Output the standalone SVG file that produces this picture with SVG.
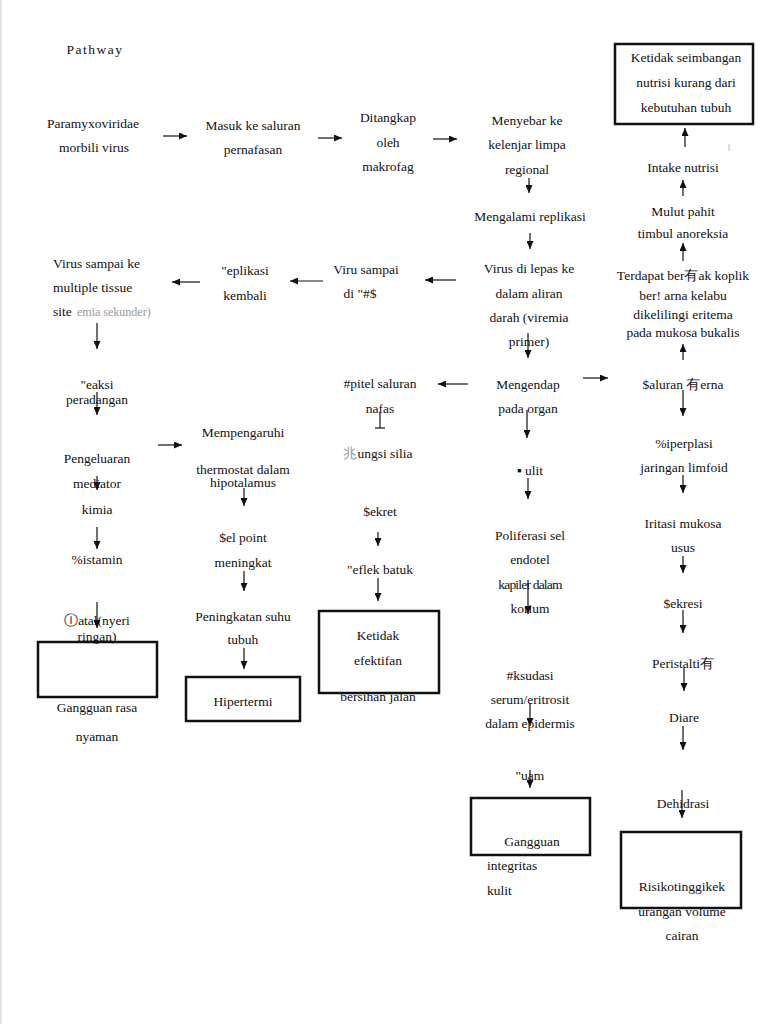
<svg xmlns="http://www.w3.org/2000/svg" width="768" height="1024" viewBox="0 0 768 1024">
<style>
text{font-family:"Liberation Serif","Times New Roman",serif;font-size:13.5px;fill:#111;text-anchor:middle}
.l{text-anchor:start}
.g{fill:#999}
.box{fill:none;stroke:#111;stroke-width:2.5}
.c line{stroke:#111;stroke-width:1.2}
</style>
<defs>
<marker id="a" markerUnits="userSpaceOnUse" markerWidth="8" markerHeight="7" refX="8" refY="3.5" orient="auto">
<path d="M0,0 L8,3.5 L0,7 z" fill="#111"/>
</marker>
</defs>
<rect width="768" height="1024" fill="#fff"/>
<line x1="1" y1="0" x2="1" y2="1024" stroke="#dfe6ee" stroke-width="2"/>
<text x="95" y="54" style="letter-spacing:1.5px">Pathway</text>

<g id="n1"><text x="93" y="128">Paramyxoviridae</text><text x="94" y="152">morbili virus</text></g>
<g id="n2"><text x="253" y="130">Masuk ke saluran</text><text x="253" y="154">pernafasan</text></g>
<g id="n3"><text x="388" y="122">Ditangkap</text><text x="388" y="147">oleh</text><text x="388" y="171">makrofag</text></g>
<g id="n4"><text x="527" y="125">Menyebar ke</text><text x="527" y="149">kelenjar limpa</text><text x="527" y="174">regional</text></g>
<g id="n5"><text x="530" y="221">Mengalami replikasi</text></g>
<g id="n6"><text x="529" y="273">Virus di lepas ke</text><text x="529" y="298">dalam aliran</text><text x="529" y="322">darah (viremia</text><text x="529" y="346">primer)</text></g>
<g id="n7"><text x="366" y="274">Viru sampai</text><text x="360" y="298">di "#$</text></g>
<g id="n8"><text x="245" y="275">"eplikasi</text><text x="245" y="300">kembali</text></g>
<g id="n9"><text class="l" x="53" y="268">Virus sampai ke</text><text class="l" x="53" y="292">multiple tissue</text><text class="l" x="53" y="316">site</text><text class="l g" x="77" y="316" style="font-size:12px">emia sekunder)</text></g>
<g id="n10"><text x="97" y="389">"eaksi</text><text x="97" y="404">peradangan</text></g>
<g id="n11"><text x="97" y="463">Pengeluaran</text><text x="97" y="488">mediator</text><text x="97" y="514">kimia</text></g>
<g id="n12"><text x="97" y="564">%istamin</text></g>
<g id="n13"><text x="97" y="625">Ⓘatal(nyeri</text><text x="97" y="641">ringan)</text></g>
<g id="n14"><rect class="box" x="38" y="642" width="119" height="55"/><text x="97" y="712">Gangguan rasa</text><text x="97" y="741">nyaman</text></g>
<g id="n15"><text x="243" y="437">Mempengaruhi</text><text x="243" y="474">thermostat dalam</text><text x="243" y="487">hipotalamus</text></g>
<g id="n16"><text x="243" y="542">$el point</text><text x="243" y="567">meningkat</text></g>
<g id="n17"><text x="243" y="621">Peningkatan suhu</text><text x="243" y="644">tubuh</text></g>
<g id="n18"><rect class="box" x="186" y="677" width="114" height="44"/><text x="243" y="706">Hipertermi</text></g>
<g id="n19"><text x="380" y="388">#pitel saluran</text><text x="380" y="413">nafas</text></g>
<g id="n20"><text x="378" y="458"><tspan class="g">兆</tspan>ungsi silia</text></g>
<g id="n21"><text x="380" y="516">$ekret</text></g>
<g id="n22"><text x="380" y="574">"eflek batuk</text></g>
<g id="n23"><text x="378" y="640">Ketidak</text><text x="378" y="665">efektifan</text><text x="378" y="701">bersihan jalan</text><rect class="box" x="319" y="611" width="120" height="82" fill="none"/></g>
<g id="n24"><text x="528" y="389">Mengendap</text><text x="528" y="413">pada organ</text></g>
<g id="n25"><text x="530" y="475">▪ ulit</text></g>
<g id="n26"><text x="530" y="540">Poliferasi sel</text><text x="530" y="564">endotel</text><text x="530" y="589" style="letter-spacing:-0.8px">kapiler dalam</text><text x="530" y="613">korium</text></g>
<g id="n27"><text x="530" y="680">#ksudasi</text><text x="530" y="704">serum/eritrosit</text><text x="530" y="728">dalam epidermis</text></g>
<g id="n28"><text x="530" y="780">"uam</text></g>
<g id="n29"><rect class="box" x="471" y="798" width="119" height="57"/><text x="532" y="846">Gangguan</text><text class="l" x="487" y="870">integritas</text><text class="l" x="487" y="895">kulit</text></g>
<g id="n30"><text x="683" y="389">$aluran 有erna</text></g>
<g id="n31"><text x="684" y="448">%iperplasi</text><text x="684" y="472">jaringan limfoid</text></g>
<g id="n32"><text x="683" y="528">Iritasi mukosa</text><text x="683" y="552">usus</text></g>
<g id="n33"><text x="683" y="608">$ekresi</text></g>
<g id="n34"><text x="683" y="668">Peristalti有</text></g>
<g id="n35"><text x="684" y="722">Diare</text></g>
<g id="n36"><text x="683" y="808">Dehidrasi</text></g>
<g id="n37"><rect class="box" x="621" y="832" width="120" height="76"/><text x="682" y="891">Risikotinggikek</text><text x="682" y="916">urangan volume</text><text x="682" y="940">cairan</text></g>
<g id="n38"><text x="683" y="280">Terdapat ber有ak koplik</text><text x="683" y="300">ber! arna kelabu</text><text x="683" y="319">dikelilingi eritema</text><text x="683" y="337">pada mukosa bukalis</text></g>
<g id="n39"><text x="683" y="216">Mulut pahit</text><text x="683" y="238">timbul anoreksia</text></g>
<g id="n40"><text x="683" y="172">Intake nutrisi</text></g>
<g id="n41"><rect class="box" x="615" y="44" width="138" height="80"/><text x="686" y="62">Ketidak seimbangan</text><text x="686" y="87">nutrisi kurang dari</text><text x="686" y="112">kebutuhan tubuh</text></g>

<g class="c" id="connectors">
<line x1="163" y1="136" x2="187" y2="136" marker-end="url(#a)"/>
<line x1="318" y1="138" x2="342" y2="138" marker-end="url(#a)"/>
<line x1="433" y1="139" x2="457" y2="139" marker-end="url(#a)"/>
<line x1="529" y1="178" x2="529" y2="193" marker-end="url(#a)"/>
<line x1="530" y1="233" x2="530" y2="249" marker-end="url(#a)"/>
<line x1="456" y1="280" x2="425" y2="280" marker-end="url(#a)"/>
<line x1="323" y1="281" x2="290" y2="281" marker-end="url(#a)"/>
<line x1="200" y1="282" x2="172" y2="282" marker-end="url(#a)"/>
<line x1="97" y1="323" x2="97" y2="349" marker-end="url(#a)"/>
<line x1="97" y1="392" x2="97" y2="415" marker-end="url(#a)"/>
<line x1="158" y1="445" x2="182" y2="445" marker-end="url(#a)"/>
<line x1="97" y1="476" x2="97" y2="490" marker-end="url(#a)"/>
<line x1="97" y1="527" x2="97" y2="549" marker-end="url(#a)"/>
<line x1="97" y1="602" x2="97" y2="628" marker-end="url(#a)"/>
<line x1="244" y1="488" x2="244" y2="506" marker-end="url(#a)"/>
<line x1="244" y1="571" x2="244" y2="591" marker-end="url(#a)"/>
<line x1="244" y1="648" x2="244" y2="669" marker-end="url(#a)"/>
<line x1="528" y1="333" x2="528" y2="358" marker-end="url(#a)"/>
<line x1="468" y1="384" x2="438" y2="384" marker-end="url(#a)"/>
<line x1="380" y1="412" x2="380" y2="428"/>
<line x1="375" y1="428" x2="385" y2="428"/>
<line x1="378" y1="532" x2="378" y2="546" marker-end="url(#a)"/>
<line x1="378" y1="578" x2="378" y2="601" marker-end="url(#a)"/>
<line x1="527" y1="410" x2="527" y2="438" marker-end="url(#a)"/>
<line x1="528" y1="478" x2="528" y2="499" marker-end="url(#a)"/>
<line x1="528" y1="580" x2="528" y2="614" marker-end="url(#a)"/>
<line x1="530" y1="703" x2="530" y2="726" marker-end="url(#a)"/>
<line x1="530" y1="770" x2="530" y2="788" marker-end="url(#a)"/>
<line x1="583" y1="378" x2="608" y2="378" marker-end="url(#a)"/>
<line x1="683" y1="390" x2="683" y2="416" marker-end="url(#a)"/>
<line x1="683" y1="475" x2="683" y2="493" marker-end="url(#a)"/>
<line x1="683" y1="556" x2="683" y2="573" marker-end="url(#a)"/>
<line x1="683" y1="610" x2="683" y2="633" marker-end="url(#a)"/>
<line x1="684" y1="668" x2="684" y2="691" marker-end="url(#a)"/>
<line x1="683" y1="726" x2="683" y2="750" marker-end="url(#a)"/>
<line x1="682" y1="790" x2="682" y2="818" marker-end="url(#a)"/>
<line x1="683" y1="360" x2="683" y2="344" marker-end="url(#a)"/>
<line x1="683" y1="261" x2="683" y2="243" marker-end="url(#a)"/>
<line x1="683" y1="196" x2="683" y2="180" marker-end="url(#a)"/>
<line x1="685" y1="147" x2="685" y2="128" marker-end="url(#a)"/>
<line x1="729" y1="144" x2="729" y2="151" style="stroke:#bbb;stroke-width:1"/>
</g>
</svg>
